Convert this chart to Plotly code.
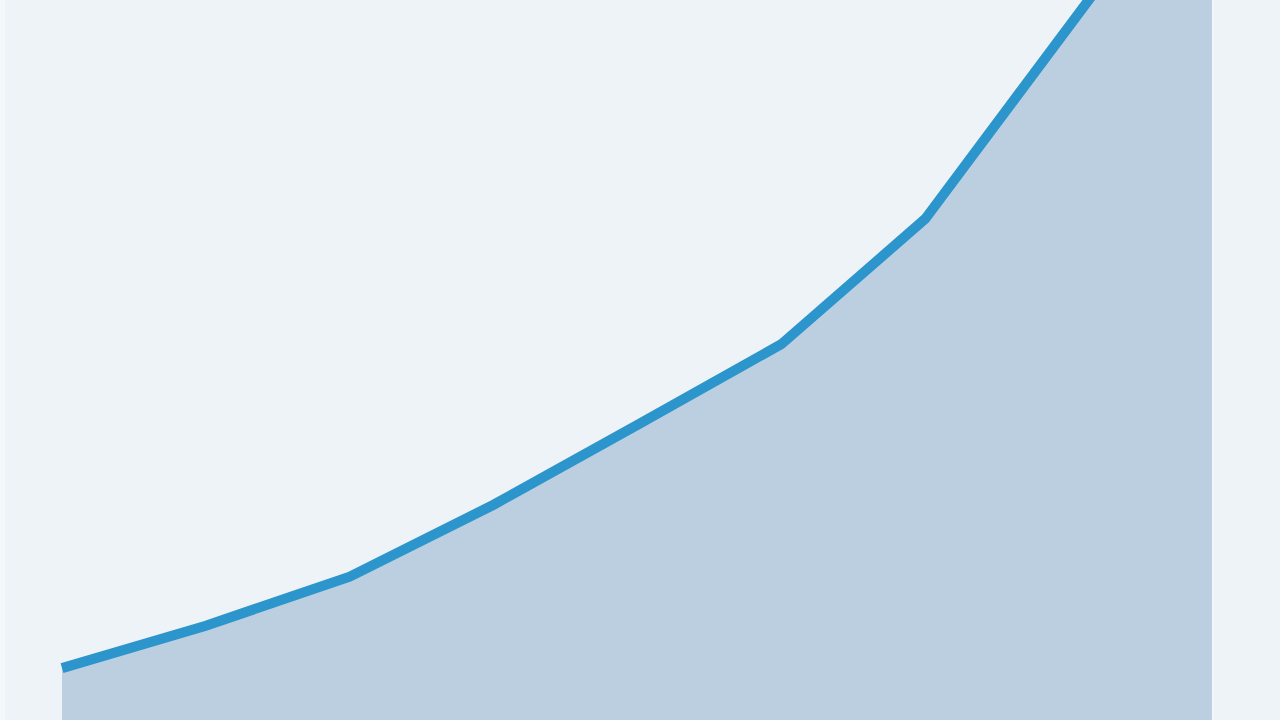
import plotly.graph_objects as go

# Data (x: evenly spaced periods, y: values on a 0-100 scale)
periods = [0, 1, 2, 3, 4, 5, 6, 7, 8]
values = [7.2, 13.1, 19.9, 29.9, 41.0, 52.2, 69.6, 96.0, 123.1]

BG = "#EEF3F8"
LINE = "#2C95CB"
FILL = "#BCCFE0"

fig = go.Figure()
fig.add_trace(go.Scatter(
    x=periods, y=values, mode="lines",
    line=dict(color=LINE, width=10),
    fill="tozeroy", fillcolor=FILL,
    hoverinfo="skip", showlegend=False,
))

fig.update_layout(
    width=1280, height=720,
    margin=dict(l=0, r=0, t=0, b=0),
    paper_bgcolor=BG, plot_bgcolor=BG,
    xaxis=dict(range=[-0.431, 8.466], visible=False, fixedrange=True),
    yaxis=dict(range=[0, 100], visible=False, fixedrange=True),
    shapes=[
        dict(type="line", xref="x", yref="paper", x0=8, x1=8, y0=0, y1=1,
             line=dict(color="#F3F7FB", width=2)),
        dict(type="rect", xref="paper", yref="paper", x0=0, x1=0.004, y0=0, y1=1,
             line=dict(width=0), fillcolor="#F4F8FB"),
    ],
)

fig.write_html(
    "out.html",
    config={"displayModeBar": False},
    post_script="document.body.style.margin='0';document.body.style.overflow='hidden';"
                "document.body.style.background='" + BG + "';",
)
